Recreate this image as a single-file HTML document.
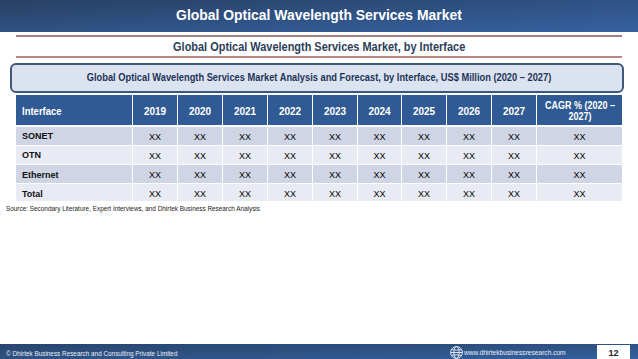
<!DOCTYPE html>
<html><head><meta charset="utf-8">
<style>
html,body{margin:0;padding:0;}
body{width:638px;height:359px;overflow:hidden;background:#fff;position:relative;font-family:"Liberation Sans",sans-serif;}
.abs{position:absolute;}
#hdr{left:0;top:0;width:638px;height:32px;background:linear-gradient(to bottom right,#294063 0%,#2f5284 50%,#3562a0 100%);}
.ctr{position:absolute;left:0;width:638px;text-align:center;white-space:nowrap;}
.ctr span{display:inline-block;}
#title{top:-1px;height:31px;line-height:31px;color:#fff;font-weight:bold;font-size:15px;}
#title span{transform:scaleX(0.928);}
#line1{left:16px;top:35px;width:606px;height:2px;background:#a38083;}
#line2{left:16px;top:56px;width:606px;height:2px;background:#bb8786;}
#sub{top:38px;height:19px;line-height:19px;color:#2c3e5a;font-weight:bold;font-size:12px;}
#sub span{transform:scaleX(0.912);}
#box{left:10px;top:63px;width:610px;height:26px;border:2px solid #40587a;border-radius:6px;background:#dbe3f1;}
#boxt{top:63px;height:29px;line-height:29px;color:#1f3357;font-weight:bold;font-size:10px;}
#boxt span{transform:scaleX(0.929);}
.hc,.rc{position:absolute;display:flex;align-items:center;justify-content:center;text-align:center;}
.hc{background:#2f5a93;color:#fff;font-weight:bold;font-size:10px;}
.hc span{position:relative;top:1px;}
.hc.hl{justify-content:flex-start;padding-left:6px;box-sizing:border-box;}
.hc.hl span{transform:scaleX(0.95);transform-origin:0 50%;}
.hc.cagr{line-height:11.4px;}
.hc.cagr span{transform:scaleX(0.9);position:relative;top:1px;}
.rc{font-size:9px;color:#000;}
.rc span{position:relative;top:1px;}
.rc.nl{justify-content:flex-start;padding-left:6px;box-sizing:border-box;font-weight:bold;color:#111;}
.rc.nl span{top:0;}
.rc.nl.lo span{top:1px;}
.rc.d{background:#cfd5e5;}
.rc.l{background:#e8ebf4;}
#src{left:6px;top:205px;font-size:6.4px;color:#222;white-space:nowrap;}
#ftr{left:0;top:344px;width:638px;height:15px;background:linear-gradient(to bottom right,#29446e 0%,#2e5283 50%,#3461a0 100%);}
#copy{left:6px;top:344px;height:15px;line-height:15px;font-size:7px;color:#e8eef8;white-space:nowrap;transform:scaleX(0.91);transform-origin:0 0;padding-top:1.5px;}
#web{left:464px;top:344px;height:15px;line-height:15px;font-size:7.5px;color:#e8eef8;white-space:nowrap;transform:scaleX(0.88);transform-origin:0 0;padding-top:1px;}
#pg{left:597px;top:345px;width:33px;height:14px;background:#fff;text-align:center;line-height:14px;font-size:9px;font-weight:bold;color:#222;padding-top:0.5px;box-sizing:border-box;}
#globe{left:449px;top:345px;}
</style></head><body>
<div id="hdr" class="abs"></div>
<div id="title" class="ctr"><span>Global Optical Wavelength Services Market</span></div>
<div id="line1" class="abs"></div>
<div id="sub" class="ctr"><span>Global Optical Wavelength Services Market, by Interface</span></div>
<div id="line2" class="abs"></div>
<div id="box" class="abs"></div>
<div id="boxt" class="ctr"><span>Global Optical Wavelength Services Market Analysis and Forecast, by Interface, US$ Million (2020 – 2027)</span></div>
<div class="hc hl" style="left:16px;top:95px;width:116px;height:30px"><span>Interface</span></div>
<div class="hc" style="left:133px;top:95px;width:44px;height:30px"><span>2019</span></div>
<div class="hc" style="left:178px;top:95px;width:44px;height:30px"><span>2020</span></div>
<div class="hc" style="left:223px;top:95px;width:44px;height:30px"><span>2021</span></div>
<div class="hc" style="left:268px;top:95px;width:44px;height:30px"><span>2022</span></div>
<div class="hc" style="left:313px;top:95px;width:44px;height:30px"><span>2023</span></div>
<div class="hc" style="left:358px;top:95px;width:43px;height:30px"><span>2024</span></div>
<div class="hc" style="left:402px;top:95px;width:44px;height:30px"><span>2025</span></div>
<div class="hc" style="left:447px;top:95px;width:44px;height:30px"><span>2026</span></div>
<div class="hc" style="left:492px;top:95px;width:44px;height:30px"><span>2027</span></div>
<div class="hc cagr" style="left:537px;top:95px;width:85px;height:30px"><span>CAGR % (2020 –<br>2027)</span></div>
<div class="rc d nl" style="left:16px;top:127px;width:116px;height:18px"><span>SONET</span></div>
<div class="rc d" style="left:133px;top:127px;width:44px;height:18px"><span>XX</span></div>
<div class="rc d" style="left:178px;top:127px;width:44px;height:18px"><span>XX</span></div>
<div class="rc d" style="left:223px;top:127px;width:44px;height:18px"><span>XX</span></div>
<div class="rc d" style="left:268px;top:127px;width:44px;height:18px"><span>XX</span></div>
<div class="rc d" style="left:313px;top:127px;width:44px;height:18px"><span>XX</span></div>
<div class="rc d" style="left:358px;top:127px;width:43px;height:18px"><span>XX</span></div>
<div class="rc d" style="left:402px;top:127px;width:44px;height:18px"><span>XX</span></div>
<div class="rc d" style="left:447px;top:127px;width:44px;height:18px"><span>XX</span></div>
<div class="rc d" style="left:492px;top:127px;width:44px;height:18px"><span>XX</span></div>
<div class="rc d" style="left:537px;top:127px;width:85px;height:18px"><span>XX</span></div>
<div class="rc l nl" style="left:16px;top:146px;width:116px;height:18px"><span>OTN</span></div>
<div class="rc l" style="left:133px;top:146px;width:44px;height:18px"><span>XX</span></div>
<div class="rc l" style="left:178px;top:146px;width:44px;height:18px"><span>XX</span></div>
<div class="rc l" style="left:223px;top:146px;width:44px;height:18px"><span>XX</span></div>
<div class="rc l" style="left:268px;top:146px;width:44px;height:18px"><span>XX</span></div>
<div class="rc l" style="left:313px;top:146px;width:44px;height:18px"><span>XX</span></div>
<div class="rc l" style="left:358px;top:146px;width:43px;height:18px"><span>XX</span></div>
<div class="rc l" style="left:402px;top:146px;width:44px;height:18px"><span>XX</span></div>
<div class="rc l" style="left:447px;top:146px;width:44px;height:18px"><span>XX</span></div>
<div class="rc l" style="left:492px;top:146px;width:44px;height:18px"><span>XX</span></div>
<div class="rc l" style="left:537px;top:146px;width:85px;height:18px"><span>XX</span></div>
<div class="rc d nl lo" style="left:16px;top:165px;width:116px;height:18px"><span>Ethernet</span></div>
<div class="rc d" style="left:133px;top:165px;width:44px;height:18px"><span>XX</span></div>
<div class="rc d" style="left:178px;top:165px;width:44px;height:18px"><span>XX</span></div>
<div class="rc d" style="left:223px;top:165px;width:44px;height:18px"><span>XX</span></div>
<div class="rc d" style="left:268px;top:165px;width:44px;height:18px"><span>XX</span></div>
<div class="rc d" style="left:313px;top:165px;width:44px;height:18px"><span>XX</span></div>
<div class="rc d" style="left:358px;top:165px;width:43px;height:18px"><span>XX</span></div>
<div class="rc d" style="left:402px;top:165px;width:44px;height:18px"><span>XX</span></div>
<div class="rc d" style="left:447px;top:165px;width:44px;height:18px"><span>XX</span></div>
<div class="rc d" style="left:492px;top:165px;width:44px;height:18px"><span>XX</span></div>
<div class="rc d" style="left:537px;top:165px;width:85px;height:18px"><span>XX</span></div>
<div class="rc l nl lo" style="left:16px;top:184px;width:116px;height:17px"><span>Total</span></div>
<div class="rc l" style="left:133px;top:184px;width:44px;height:17px"><span>XX</span></div>
<div class="rc l" style="left:178px;top:184px;width:44px;height:17px"><span>XX</span></div>
<div class="rc l" style="left:223px;top:184px;width:44px;height:17px"><span>XX</span></div>
<div class="rc l" style="left:268px;top:184px;width:44px;height:17px"><span>XX</span></div>
<div class="rc l" style="left:313px;top:184px;width:44px;height:17px"><span>XX</span></div>
<div class="rc l" style="left:358px;top:184px;width:43px;height:17px"><span>XX</span></div>
<div class="rc l" style="left:402px;top:184px;width:44px;height:17px"><span>XX</span></div>
<div class="rc l" style="left:447px;top:184px;width:44px;height:17px"><span>XX</span></div>
<div class="rc l" style="left:492px;top:184px;width:44px;height:17px"><span>XX</span></div>
<div class="rc l" style="left:537px;top:184px;width:85px;height:17px"><span>XX</span></div>
<div id="src" class="abs">Source: Secondary Literature, Expert Interviews, and Dhirtek Business Research Analysis</div>
<div id="ftr" class="abs"></div>
<div id="copy" class="abs">© Dhirtek Business Research and Consulting Private Limited</div>
<svg id="globe" class="abs" width="15" height="15" viewBox="0 0 15 15"><g fill="none" stroke="#dfe6f2" stroke-width="1"><circle cx="7.5" cy="7.5" r="5.9"/><ellipse cx="7.5" cy="7.5" rx="2.6" ry="5.9"/><line x1="1.6" y1="7.5" x2="13.4" y2="7.5"/><path d="M2.6 4.7 Q7.5 5.6 12.4 4.7 M2.6 10.3 Q7.5 9.4 12.4 10.3"/></g></svg>
<div id="web" class="abs">www.dhirtekbusinessresearch.com</div>
<div id="pg" class="abs">12</div>
</body></html>
